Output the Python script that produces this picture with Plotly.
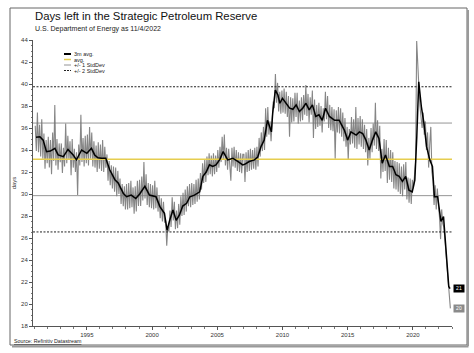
import plotly.graph_objects as go

# ---------------- data ----------------
# weekly "days of supply" series, sampled here monthly (Jan 1991 .. Nov 2022)
GRAY_1991_1999 = [
    36.2, 33.9, 37.4, 33.8, 36.3, 33.4, 36.8, 33.2, 35.5, 32.3, 34.9, 32.8,
    35.2, 32.4, 34.9, 31.8, 35.6, 33.0, 38.1, 32.6, 35.0, 32.2, 34.6, 32.9,
    34.6, 31.9, 34.2, 32.5, 36.4, 32.8, 35.3, 33.1, 34.8, 31.7, 35.0, 32.4,
    34.1, 32.0, 33.8, 29.9, 34.5, 32.6, 37.2, 32.9, 35.1, 32.5, 35.3, 32.8,
    35.4, 32.6, 36.1, 33.2, 35.6, 32.5, 34.8, 32.4, 34.4, 32.0, 34.7, 32.3,
    34.5, 32.1, 34.9, 32.0, 34.3, 32.4, 33.6, 31.2, 33.0, 30.8, 32.6, 30.5,
    32.5, 30.2, 32.4, 29.8, 32.1, 30.0, 31.4, 29.1, 30.9, 28.9, 30.7, 28.6,
    30.9, 28.6, 31.0, 28.7, 31.2, 28.8, 30.6, 28.2, 30.7, 28.4, 31.2, 28.9,
    31.3, 28.9, 31.6, 29.4, 32.9, 29.6, 31.8, 29.0, 31.0, 28.8, 30.9, 28.7,
]
GRAY_2000_2009 = [
    30.8, 28.6, 31.2, 28.7, 30.6, 28.4, 29.9, 27.8, 29.6, 27.5, 29.3, 27.4,
    27.6, 25.3, 27.0, 26.6, 28.5, 27.0, 29.7, 27.6, 29.3, 26.8, 28.5, 26.9,
    29.1, 27.2, 29.8, 28.0, 30.1, 28.1, 30.4, 28.4, 30.7, 28.9, 30.9, 28.8,
    31.0, 29.0, 30.9, 29.1, 31.3, 29.3, 31.4, 29.5, 31.9, 30.4, 32.8, 31.0,
    33.1, 31.1, 33.4, 31.7, 33.7, 31.8, 33.5, 31.6, 33.7, 31.8, 33.5, 32.0,
    34.0, 32.4, 34.3, 32.9, 35.2, 33.1, 35.4, 32.6, 34.2, 32.2, 34.1, 32.3,
    31.2, 34.2, 32.5, 34.3, 32.4, 34.0, 32.1, 33.8, 32.0, 33.7, 31.9, 33.6,
    33.6, 31.1, 33.8, 32.0, 34.0, 32.1, 34.1, 32.2, 34.0, 32.3, 34.2, 32.2,
    34.3, 32.5, 35.1, 33.4, 35.6, 33.9, 36.1, 34.0, 37.8, 35.2, 37.9, 35.4,
    36.6, 34.8, 36.2, 38.4, 37.8, 40.9, 38.3, 40.1, 37.5, 39.3, 37.3, 39.4,
]
GRAY_2010_2022 = [
    37.4, 39.6, 37.3, 39.3, 37.0, 38.9, 35.2, 38.8, 36.5, 38.7, 36.6, 39.2,
    37.0, 39.2, 36.4, 38.5, 36.6, 38.8, 36.7, 39.0, 37.2, 39.9, 37.1, 39.1,
    36.5, 38.8, 37.2, 39.4, 35.1, 38.6, 35.9, 38.1, 36.1, 38.3, 36.2, 38.0,
    35.6, 37.8, 36.6, 39.3, 36.8, 38.9, 36.0, 38.1, 35.8, 37.9, 35.7, 37.7,
    33.2, 37.6, 35.6, 37.9, 35.5, 37.8, 35.2, 37.4, 34.8, 36.9, 34.3, 36.1,
    33.1, 35.9, 34.5, 37.0, 34.6, 36.8, 34.2, 37.9, 34.1, 36.9, 34.5, 37.1,
    34.3, 36.8, 34.1, 36.3, 33.8, 35.9, 32.6, 35.1, 33.2, 36.0, 33.8, 36.4,
    34.4, 38.3, 34.1, 36.7, 33.9, 36.2, 31.4, 34.1, 32.0, 35.0, 32.1, 34.9,
    31.0, 34.2, 31.3, 34.0, 31.1, 33.8, 30.5, 33.0, 30.4, 32.9, 30.2, 32.8,
    30.0, 32.5, 29.8, 32.7, 30.4, 32.9, 29.5, 31.5, 29.2, 31.4, 29.1, 31.3,
    30.5, 31.8, 32.9, 43.9, 42.3, 39.8, 38.0, 37.2, 36.0, 37.4, 35.4, 36.6,
    34.0, 35.6, 32.4, 34.5, 36.1, 32.0, 31.2, 29.0, 30.8, 28.6, 30.5, 29.0,
    27.9, 25.9, 28.6, 27.3, 27.0, 25.8, 24.6, 23.4, 22.3, 20.8, 19.6,
]
GRAY_START_YEAR = 1991

# 3-month average (decimal year, days)
AVG3M_X = [
    1991.1, 1991.4, 1991.65, 1991.9, 1992.2, 1992.55, 1992.8, 1993.2, 1993.55, 1993.95,
    1994.2, 1994.6, 1995.0, 1995.35, 1995.6, 1995.85, 1996.1, 1996.45, 1996.75, 1997.15,
    1997.4, 1997.8, 1998.05, 1998.4, 1998.75, 1999.05, 1999.45, 1999.8, 2000.3, 2000.6,
    2000.95, 2001.15, 2001.35, 2001.6, 2001.85, 2002.1, 2002.35, 2002.65, 2002.9, 2003.25,
    2003.65, 2003.9, 2004.15, 2004.4, 2004.65, 2004.9, 2005.2, 2005.45, 2005.8, 2006.2,
    2006.6, 2006.95, 2007.1, 2007.45, 2007.85, 2008.1, 2008.35, 2008.6, 2008.85, 2009.15,
    2009.25, 2009.45, 2009.65, 2009.8, 2010.0, 2010.3, 2010.55, 2010.8, 2011.05, 2011.3,
    2011.55, 2011.8, 2012.05, 2012.3, 2012.55, 2012.8, 2013.05, 2013.3, 2013.6, 2014.0,
    2014.35, 2014.75, 2015.0, 2015.25, 2015.65, 2015.9, 2016.15, 2016.4, 2016.65, 2016.9,
    2017.15, 2017.4, 2017.65, 2017.9, 2018.2, 2018.45, 2018.7, 2018.95, 2019.2, 2019.45,
    2019.7, 2019.95, 2020.15, 2020.3, 2020.45, 2020.65, 2020.85, 2021.05, 2021.3, 2021.5,
    2021.65, 2021.9, 2022.15, 2022.35, 2022.5, 2022.75, 2022.85,
]
AVG3M_Y = [
    35.15, 35.2, 34.9, 33.85, 33.9, 34.15, 33.55, 33.4, 34.05, 33.55,
    33.1, 34.0, 33.7, 34.15, 33.55, 33.3, 33.25, 33.25, 32.2, 31.3,
    31.0, 30.05, 29.75, 29.9, 29.6, 30.0, 30.7, 29.9, 29.75, 28.85,
    28.25, 26.7, 27.6, 28.55, 27.6, 28.1, 28.9, 29.15, 29.75, 29.9,
    30.2, 31.6, 32.0, 32.65, 32.5, 32.65, 33.15, 33.85, 33.1, 33.25,
    32.95, 32.65, 32.7, 32.95, 33.1, 33.35, 34.3, 34.9, 36.7, 35.65,
    37.35, 39.45, 39.0, 38.25, 38.7, 38.25, 37.8, 37.7, 38.1, 37.5,
    37.8, 38.25, 37.65, 38.1, 37.05, 37.2, 36.7, 37.8, 37.05, 36.7,
    36.7, 35.8, 34.9, 35.65, 35.35, 35.65, 35.5, 34.9, 34.0, 34.9,
    35.65, 35.05, 32.8, 33.55, 32.5, 32.5, 31.75, 31.6, 31.15, 31.6,
    30.35, 30.2, 31.25, 35.2, 40.2, 37.95, 36.4, 34.3, 33.1, 32.5,
    29.75, 29.75, 27.5, 27.95, 25.2, 21.6, 21.4,
]

LONG_AVG = 33.15      # long-run average (days)
STD_DEV = 3.3         # standard deviation (days)

X_RANGE = [1990.87, 2023.0]
Y_RANGE = [18, 44]

LEGEND_LABELS = ["3m avg.", "avg.", "+/- 1 StdDev", "+/- 2 StdDev"]
TITLE = "Days left in the Strategic Petroleum Reserve"
SUBTITLE = "U.S. Department of Energy as 11/4/2022"
SOURCE = "Source: Refinitiv Datastream"

# ---------------- figure ----------------
FONT = "Liberation Sans, Arial, sans-serif"
W, H = 474, 353
L, R, T, B = 33, 22, 40, 27
PW, PH = W - L - R, H - T - B


def px(xp):
    return (xp - L) / PW


def py(yp):
    return (H - B - yp) / PH


gray = GRAY_1991_1999 + GRAY_2000_2009 + GRAY_2010_2022
gray_x = [GRAY_START_YEAR + (i + 0.5) / 12 for i in range(len(gray))]

GRAY_C = "#868686"
YELLOW_C = "#e6cd4f"
SD1_C = "#7a7a7a"
SD2_C = "#222222"

fig = go.Figure()
fig.add_trace(go.Scatter(x=gray_x, y=gray, mode="lines",
                         line=dict(color=GRAY_C, width=1.1), hoverinfo="skip"))
for k in (1, -1):
    fig.add_trace(go.Scatter(x=X_RANGE, y=[LONG_AVG + k * STD_DEV] * 2, mode="lines",
                             line=dict(color=SD1_C, width=0.8)))
    fig.add_trace(go.Scatter(x=X_RANGE, y=[LONG_AVG + 2 * k * STD_DEV] * 2, mode="lines",
                             line=dict(color=SD2_C, width=1, dash="2px,1.5px")))
fig.add_trace(go.Scatter(x=X_RANGE, y=[LONG_AVG] * 2, mode="lines",
                         line=dict(color=YELLOW_C, width=1.5)))
fig.add_trace(go.Scatter(x=AVG3M_X, y=AVG3M_Y, mode="lines",
                         line=dict(color="#000000", width=1.5)))

shapes = []
annotations = []

# frame around the whole chart
shapes.append(dict(type="rect", xref="paper", yref="paper",
                   x0=px(10), x1=px(467), y0=py(345), y1=py(8),
                   line=dict(color="#666666", width=1)))
shapes.append(dict(type="line", xref="paper", yref="paper",
                   x0=px(468), x1=px(468), y0=py(346), y1=py(10),
                   line=dict(color="#9a9a9a", width=2)))
shapes.append(dict(type="line", xref="paper", yref="paper",
                   x0=px(12), x1=px(468.5), y0=py(346.5), y1=py(346.5),
                   line=dict(color="#9a9a9a", width=2)))

# titles
annotations.append(dict(text=TITLE, xref="paper", yref="paper", x=px(33), y=py(16),
                        xanchor="left", yanchor="middle", showarrow=False,
                        font=dict(family=FONT, size=11.3, color="#111")))
annotations.append(dict(text=SUBTITLE, xref="paper", yref="paper", x=px(33), y=py(29),
                        xanchor="left", yanchor="middle", showarrow=False,
                        font=dict(family=FONT, size=7, color="#222")))
annotations.append(dict(text="<u>" + SOURCE + "</u>", xref="paper", yref="paper",
                        x=px(12), y=py(341), xanchor="left", yanchor="middle",
                        showarrow=False, font=dict(family=FONT, size=5.3, color="#222")))

# manual legend
leg_styles = [
    dict(color="#000000", width=2),
    dict(color=YELLOW_C, width=1.5),
    dict(color=SD1_C, width=0.8),
    dict(color=SD2_C, width=1, dash="2px,1px"),
]
leg_rows = [54, 59.5, 65, 70.5]
for lab, st, yy in zip(LEGEND_LABELS, leg_styles, leg_rows):
    shapes.append(dict(type="line", xref="paper", yref="paper",
                       x0=px(64), x1=px(71), y0=py(yy), y1=py(yy), line=st))
    annotations.append(dict(text=lab, xref="paper", yref="paper", x=px(72), y=py(yy),
                            xanchor="left", yanchor="middle", showarrow=False,
                            font=dict(family=FONT, size=5.5, color="#222")))

# last-value tags
annotations.append(dict(text=f"{AVG3M_Y[-1]:.0f}", xref="paper", yref="y",
                        x=1.0, y=AVG3M_Y[-1], xanchor="left", yanchor="middle",
                        xshift=1, showarrow=False, bgcolor="#000000",
                        width=9, height=5.5, borderpad=0.5,
                        font=dict(family=FONT, size=5, color="#ffffff")))
annotations.append(dict(text=f"{gray[-1]:.0f}", xref="paper", yref="y",
                        x=1.0, y=gray[-1], xanchor="left", yanchor="middle",
                        xshift=1, showarrow=False, bgcolor="#8a8a8a",
                        width=9, height=5.5, borderpad=0.5,
                        font=dict(family=FONT, size=5, color="#ffffff")))

fig.update_layout(
    width=W, height=H, margin=dict(l=L, r=R, t=T, b=B),
    paper_bgcolor="white", plot_bgcolor="white",
    showlegend=False,
    font=dict(family=FONT, size=6, color="#333"),
    shapes=shapes, annotations=annotations,
    xaxis=dict(range=X_RANGE, tick0=1995, dtick=5, ticks="outside", ticklen=3,
               tickwidth=1, tickcolor="#555", showline=True, linecolor="#555",
               linewidth=1, showgrid=False, zeroline=False,
               tickfont=dict(family=FONT, size=6, color="#333"),
               minor=dict(tick0=1991, dtick=1, ticks="outside", ticklen=2,
                          tickcolor="#777", showgrid=False)),
    yaxis=dict(range=Y_RANGE, tick0=18, dtick=2, ticks="outside", ticklen=3,
               tickwidth=1, tickcolor="#555", showline=True, linecolor="#555",
               linewidth=1, showgrid=False, zeroline=False,
               tickfont=dict(family=FONT, size=6, color="#333"),
               title=dict(text="days", font=dict(family=FONT, size=6, color="#333"),
                          standoff=4),
               minor=dict(dtick=0.5, ticks="outside", ticklen=1.5,
                          tickcolor="#777", showgrid=False)),
)

fig.write_html("out.html")
